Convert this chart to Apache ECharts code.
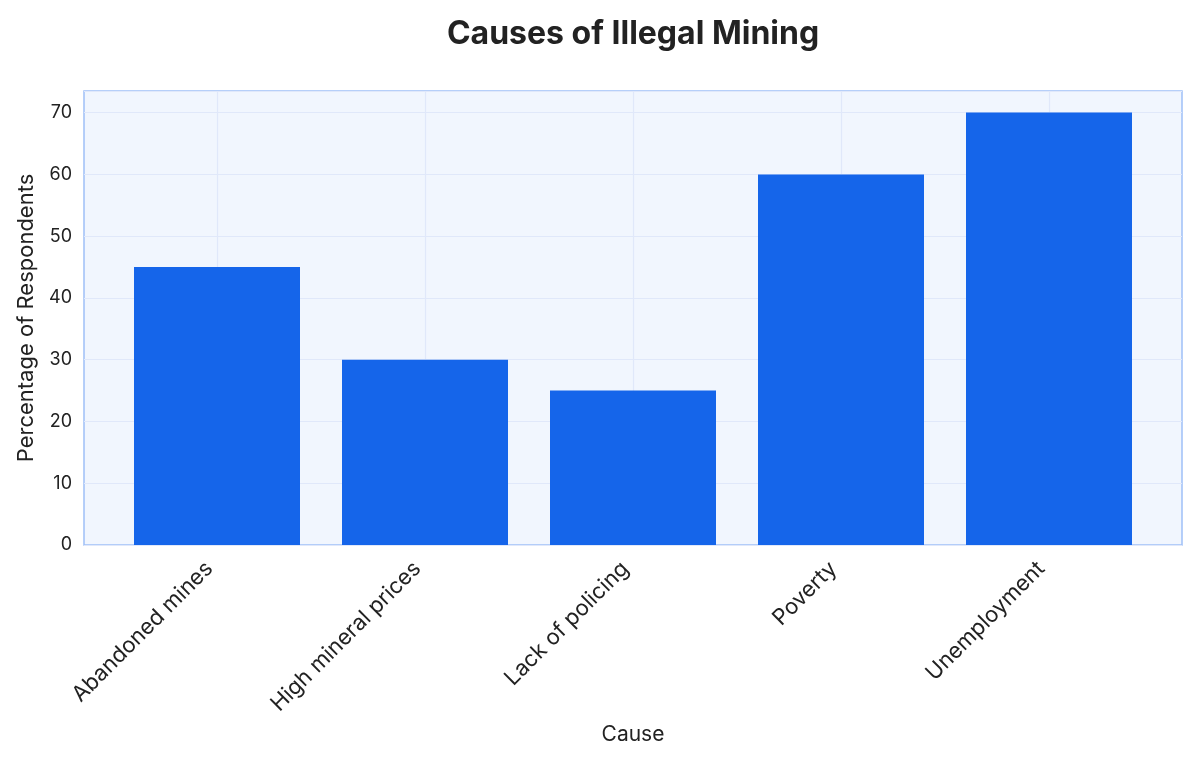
<!DOCTYPE html>
<html>
<head>
<meta charset="utf-8">
<script src="https://cdn.jsdelivr.net/npm/echarts@6/dist/echarts.min.js"></script>
<style>html,body{margin:0;padding:0;background:#fff}#c{width:1200px;height:765px}</style>
</head>
<body>
<div id="c"></div>
<script>
const title = 'Causes of Illegal Mining';
const categories = ['Abandoned mines', 'High mineral prices', 'Lack of policing', 'Poverty', 'Unemployment'];
const values = [45, 30, 25, 60, 70];
const xName = 'Cause';
const yName = 'Percentage of Respondents';

const FONT = 'Inter';
const chart = echarts.init(document.getElementById('c'), null, {renderer: 'canvas'});
const gTop = 91, gBottom = 220;
chart.setOption({
  animation: false,
  backgroundColor: '#ffffff',
  title: {
    text: title, left: 628, top: 13, textAlign: 'center',
    textStyle: {fontFamily: FONT, fontSize: 32, fontWeight: 'bold', color: '#222222'}
  },
  grid: [
    {left: 84, right: 18, top: gTop, bottom: gBottom, show: true,
     backgroundColor: '#f1f6fe', borderColor: '#9fc0f7', borderWidth: 1.5},
    {left: 217, right: 151, top: gTop, bottom: gBottom}
  ],
  xAxis: [
    {gridIndex: 0, type: 'value', min: 0, max: 1, show: false},
    {gridIndex: 1, type: 'category', data: categories, boundaryGap: false,
     axisLine: {show: false}, axisTick: {show: false},
     axisLabel: {rotate: 45, margin: 28, verticalAlign: 'bottom', fontFamily: FONT, fontSize: 22, color: '#222222', interval: 0},
     splitLine: {show: true, lineStyle: {color: '#e0e8fa', width: 1.2}},
     name: xName, nameLocation: 'middle', nameGap: 179,
     nameTextStyle: {fontFamily: FONT, fontSize: 21, color: '#222222'}}
  ],
  yAxis: [
    {gridIndex: 0, type: 'value', min: 0, max: 73.5, interval: 10,
     axisLine: {show: false}, axisTick: {show: false},
     axisLabel: {fontFamily: FONT, fontSize: 18, color: '#222222', margin: 12, showMaxLabel: false},
     splitLine: {show: true, lineStyle: {color: '#e0e8fa', width: 1.2}},
     name: yName, nameLocation: 'middle', nameGap: 47,
     nameTextStyle: {fontFamily: FONT, fontSize: 22, color: '#222222'}},
    {gridIndex: 1, type: 'value', min: 0, max: 73.5, show: false}
  ],
  series: [{
    type: 'bar', xAxisIndex: 1, yAxisIndex: 1, data: values,
    barWidth: 166, clip: false,
    itemStyle: {color: '#1565ea'}
  }]
});
</script>
</body>
</html>
